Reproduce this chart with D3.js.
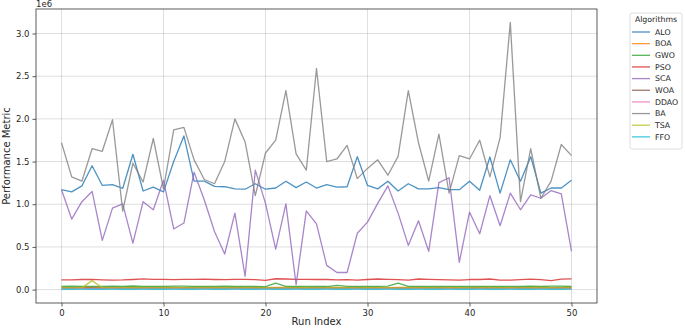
<!DOCTYPE html>
<html>
<head>
<meta charset="utf-8">
<script src="https://d3js.org/d3.v7.min.js"></script>
<style>
 body { margin: 0; background: #fff; }
 text { font-family: "DejaVu Sans", sans-serif; fill: #262626; }
</style>
</head>
<body>
<script>
// values are in units of 1e6
var runs = d3.range(0, 51);
var xTicks = [0, 10, 20, 30, 40, 50];
var yTicks = [0, 0.5, 1.0, 1.5, 2.0, 2.5, 3.0];
var algorithms = ["ALO", "BOA", "GWO", "PSO", "SCA", "WOA", "DDAO", "BA", "TSA", "FFO"];
var colors = ["#1f77b4", "#ff7f0e", "#2ca02c", "#d62728", "#9467bd", "#8c564b", "#e377c2", "#7f7f7f", "#bcbd22", "#17becf"];

var ALO = [1.17, 1.145, 1.215, 1.45, 1.22, 1.23, 1.185, 1.585, 1.155, 1.20,
 1.145, 1.50, 1.80, 1.27, 1.27, 1.21, 1.205, 1.18, 1.176, 1.24,
 1.176, 1.19, 1.27, 1.195, 1.26, 1.19, 1.23, 1.20, 1.205, 1.557,
 1.22, 1.18, 1.27, 1.156, 1.24, 1.18, 1.18, 1.195, 1.17, 1.17,
 1.27, 1.164, 1.553, 1.13, 1.52, 1.27, 1.557, 1.13, 1.19, 1.19, 1.28];
var BOA = [0.025, 0.024, 0.026, 0.025, 0.024, 0.025, 0.026, 0.025, 0.024, 0.025,
 0.026, 0.025, 0.024, 0.025, 0.026, 0.025, 0.024, 0.025, 0.026, 0.025,
 0.024, 0.025, 0.026, 0.025, 0.024, 0.025, 0.026, 0.025, 0.024, 0.025,
 0.026, 0.025, 0.024, 0.025, 0.026, 0.025, 0.024, 0.025, 0.026, 0.025,
 0.024, 0.025, 0.026, 0.025, 0.024, 0.025, 0.026, 0.025, 0.024, 0.025, 0.026];
var GWO = [0.038, 0.040, 0.037, 0.036, 0.038, 0.039, 0.037, 0.042, 0.036, 0.037,
 0.038, 0.040, 0.041, 0.038, 0.036, 0.038, 0.039, 0.037, 0.038, 0.036,
 0.035, 0.076, 0.038, 0.036, 0.037, 0.038, 0.036, 0.050, 0.038, 0.036,
 0.037, 0.038, 0.040, 0.076, 0.038, 0.037, 0.036, 0.038, 0.037, 0.038,
 0.036, 0.037, 0.038, 0.036, 0.037, 0.038, 0.040, 0.036, 0.040, 0.041, 0.036];
var PSO = [0.115, 0.113, 0.118, 0.120, 0.115, 0.112, 0.113, 0.118, 0.125, 0.120,
 0.120, 0.116, 0.120, 0.120, 0.122, 0.118, 0.116, 0.120, 0.120, 0.116,
 0.108, 0.127, 0.124, 0.120, 0.120, 0.118, 0.118, 0.114, 0.116, 0.112,
 0.118, 0.124, 0.120, 0.116, 0.112, 0.124, 0.120, 0.116, 0.113, 0.110,
 0.118, 0.118, 0.124, 0.112, 0.110, 0.116, 0.122, 0.116, 0.106, 0.122, 0.126];
var SCA = [1.17, 0.826, 1.03, 1.15, 0.577, 0.954, 1.005, 0.545, 1.03, 0.935,
 1.28, 0.71, 0.78, 1.375, 1.05, 0.68, 0.417, 0.896, 0.156, 1.40,
 1.01, 0.475, 1.005, 0.058, 0.923, 0.77, 0.284, 0.20, 0.20, 0.66,
 0.79, 1.01, 1.215, 0.896, 0.518, 0.806, 0.448, 1.254, 1.31, 0.32,
 0.908, 0.654, 1.10, 0.748, 1.13, 0.935, 1.11, 1.07, 1.16, 1.12, 0.448];
var WOA = [0.018, 0.019, 0.018, 0.017, 0.018, 0.019, 0.018, 0.017, 0.018, 0.019,
 0.018, 0.017, 0.018, 0.019, 0.018, 0.017, 0.018, 0.019, 0.018, 0.017,
 0.018, 0.019, 0.018, 0.017, 0.018, 0.019, 0.018, 0.017, 0.018, 0.019,
 0.018, 0.017, 0.018, 0.019, 0.018, 0.017, 0.018, 0.019, 0.018, 0.017,
 0.018, 0.019, 0.018, 0.017, 0.018, 0.019, 0.018, 0.017, 0.018, 0.019, 0.018];
var DDAO = [0.012, 0.013, 0.012, 0.011, 0.012, 0.013, 0.012, 0.011, 0.012, 0.013,
 0.012, 0.011, 0.012, 0.013, 0.012, 0.011, 0.012, 0.013, 0.012, 0.011,
 0.012, 0.013, 0.012, 0.011, 0.012, 0.013, 0.012, 0.011, 0.012, 0.013,
 0.012, 0.011, 0.012, 0.013, 0.012, 0.011, 0.012, 0.013, 0.012, 0.011,
 0.012, 0.013, 0.012, 0.011, 0.012, 0.013, 0.012, 0.011, 0.012, 0.013, 0.012];
var BA = [1.72, 1.32, 1.27, 1.65, 1.62, 1.99, 0.92, 1.48, 1.26, 1.77,
 1.18, 1.87, 1.90, 1.52, 1.29, 1.24, 1.50, 2.00, 1.73, 1.10,
 1.60, 1.75, 2.33, 1.59, 1.40, 2.59, 1.50, 1.53, 1.69, 1.30,
 1.42, 1.52, 1.34, 1.56, 2.33, 1.72, 1.27, 1.82, 1.13, 1.57,
 1.53, 1.75, 1.32, 1.78, 3.13, 1.03, 1.65, 1.07, 1.27, 1.70, 1.57];
var TSA = [0.020, 0.021, 0.020, 0.105, 0.021, 0.020, 0.021, 0.020, 0.021, 0.020,
 0.021, 0.020, 0.021, 0.020, 0.021, 0.020, 0.021, 0.020, 0.021, 0.020,
 0.021, 0.020, 0.021, 0.020, 0.021, 0.020, 0.021, 0.020, 0.021, 0.020,
 0.021, 0.020, 0.021, 0.020, 0.021, 0.020, 0.021, 0.020, 0.021, 0.020,
 0.021, 0.020, 0.021, 0.020, 0.021, 0.020, 0.021, 0.020, 0.021, 0.020, 0.021];
var FFO = [0.004, 0.004, 0.005, 0.004, 0.004, 0.005, 0.004, 0.004, 0.005, 0.004,
 0.004, 0.005, 0.004, 0.004, 0.005, 0.004, 0.004, 0.005, 0.004, 0.004,
 0.005, 0.004, 0.004, 0.005, 0.004, 0.004, 0.005, 0.004, 0.004, 0.005,
 0.004, 0.004, 0.005, 0.004, 0.004, 0.005, 0.004, 0.004, 0.005, 0.004,
 0.004, 0.005, 0.004, 0.004, 0.005, 0.004, 0.004, 0.005, 0.004, 0.004, 0.005];

var seriesValues = [ALO, BOA, GWO, PSO, SCA, WOA, DDAO, BA, TSA, FFO];

var width = 685, height = 329;
var plot = {left: 36, right: 597, top: 9, bottom: 303};

var svg = d3.select("body").append("svg")
 .attr("width", width)
 .attr("height", height);

var x = d3.scaleLinear().domain([-2.5, 52.5]).range([plot.left, plot.right]);
var y = d3.scaleLinear().domain([-0.157, 3.287]).range([plot.bottom, plot.top]);

// grid
svg.append("g").selectAll("line").data(xTicks).enter().append("line")
 .attr("x1", function(d) { return x(d); }).attr("x2", function(d) { return x(d); })
 .attr("y1", plot.top).attr("y2", plot.bottom)
 .attr("stroke", "#b0b0b0").attr("stroke-opacity", 0.45).attr("stroke-width", 0.9);
svg.append("g").selectAll("line").data(yTicks).enter().append("line")
 .attr("y1", function(d) { return y(d); }).attr("y2", function(d) { return y(d); })
 .attr("x1", plot.left).attr("x2", plot.right)
 .attr("stroke", "#b0b0b0").attr("stroke-opacity", 0.45).attr("stroke-width", 0.9);

// lines
var line = d3.line()
 .x(function(d, i) { return x(runs[i]); })
 .y(function(d) { return y(d); });

svg.append("g").selectAll("path").data(seriesValues).enter().append("path")
 .attr("d", line)
 .attr("fill", "none")
 .attr("stroke", function(d, i) { return colors[i]; })
 .attr("stroke-opacity", 0.8)
 .attr("stroke-width", 1.3)
 .attr("stroke-linejoin", "round");

// axes
var xAxis = svg.append("g")
 .attr("transform", "translate(0," + plot.bottom + ")")
 .call(d3.axisBottom(x).tickValues(xTicks).tickSize(3.5).tickPadding(3).tickFormat(d3.format("d")));
var yAxis = svg.append("g")
 .attr("transform", "translate(" + plot.left + ",0)")
 .call(d3.axisLeft(y).tickValues(yTicks).tickSize(3.5).tickPadding(3).tickFormat(d3.format(".1f")));
[xAxis, yAxis].forEach(function(a) {
 a.select(".domain").remove();
 a.selectAll("line").attr("stroke", "#333").attr("stroke-width", 0.8);
 a.selectAll("text").attr("font-size", 8.5).attr("fill", "#262626").attr("font-family", "DejaVu Sans");
});

// frame
svg.append("rect")
 .attr("x", plot.left).attr("y", plot.top)
 .attr("width", plot.right - plot.left).attr("height", plot.bottom - plot.top)
 .attr("fill", "none").attr("stroke", "#333").attr("stroke-width", 0.8);

// labels
svg.append("text").attr("x", plot.left).attr("y", 7)
 .attr("font-size", 8.5).text("1e6");
svg.append("text").attr("x", (plot.left + plot.right) / 2).attr("y", 325)
 .attr("text-anchor", "middle").attr("font-size", 10).text("Run Index");
svg.append("text")
 .attr("transform", "translate(10," + ((plot.top + plot.bottom) / 2) + ") rotate(-90)")
 .attr("text-anchor", "middle").attr("font-size", 10).text("Performance Metric");

// legend
var legend = svg.append("g").attr("transform", "translate(630,13)");
legend.append("rect")
 .attr("width", 52).attr("height", 136).attr("rx", 2)
 .attr("fill", "#fff").attr("stroke", "#d5d5d5").attr("stroke-width", 0.8);
legend.append("text").attr("x", 26).attr("y", 9)
 .attr("text-anchor", "middle").attr("font-size", 7.8).text("Algorithms");
var item = legend.selectAll(".item").data(algorithms).enter().append("g")
 .attr("transform", function(d, i) { return "translate(0," + (19 + i * 11.65) + ")"; });
item.append("line")
 .attr("x1", 2).attr("x2", 20)
 .attr("stroke", function(d, i) { return colors[i]; })
 .attr("stroke-opacity", 0.8).attr("stroke-width", 1.3);
item.append("text").attr("x", 25).attr("y", 2.8)
 .attr("font-size", 7.8).text(function(d) { return d; });
</script>
</body>
</html>
